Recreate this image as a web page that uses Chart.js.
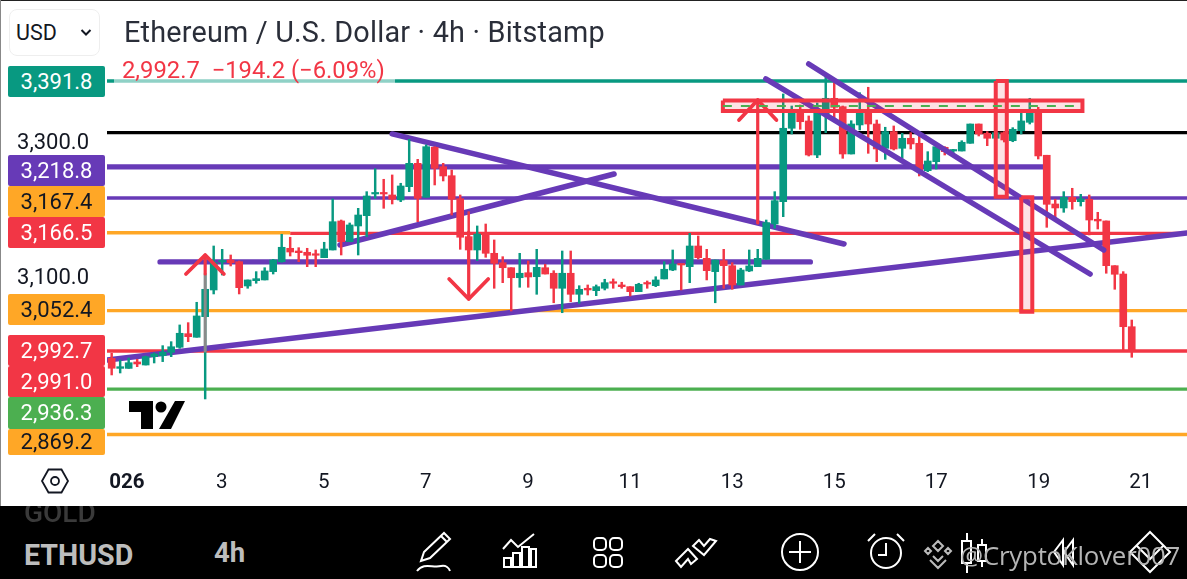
<!DOCTYPE html>
<html><head><meta charset="utf-8">
<script src="https://cdn.jsdelivr.net/npm/chart.js@4"></script>
<style>
html,body{margin:0;padding:0;background:#fff;width:1187px;height:579px;overflow:hidden;font-family:Roboto,sans-serif}
#wrap{position:relative;width:1187px;height:579px;overflow:hidden}
canvas{position:absolute;left:0;top:0}
.abs{position:absolute;white-space:nowrap}
.pill{position:absolute;left:8px;width:97px;text-align:center;font-size:22px;border-radius:2px;display:flex;align-items:center;justify-content:center;padding-bottom:1px;box-sizing:border-box}
#bar{position:absolute;left:0;top:506px;width:1187px;height:73px;background:#000;overflow:hidden;border-top:0}
#edge{position:absolute;left:0;top:0;width:1187px;height:1px;background:#222}
#edgeL{position:absolute;left:0;top:0;width:1px;height:506px;background:#888}
</style></head><body>
<div id="wrap">
<canvas id="c" width="1187" height="506"></canvas>
<div id="edge"></div><div id="edgeL"></div>
<div class="abs" style="left:9px;top:9px;width:89px;height:45px;border:1px solid #eee;border-radius:8px;background:#fff"></div>
<div class="abs" style="left:16px;top:20px;font-size:21.5px;color:#131722">USD</div>
<svg class="abs" style="left:80px;top:28px" width="12" height="9"><path d="M1.5 2 L6 6.5 L10.500 2" fill="none" stroke="#131722" stroke-width="2"/></svg>
<div class="abs" style="left:124px;top:15px;font-size:28.8px;color:#2a2e39;letter-spacing:.2px">Ethereum / U.S. Dollar · 4h · Bitstamp</div>
<div class="abs" style="left:114px;top:58px;width:281px;height:25px;background:rgba(255,255,255,.55)"></div>
<div class="abs" style="left:122px;top:56px;font-size:23.8px;color:#f23645;white-space:pre" id="quote"></div>
<svg class="abs" style="left:129px;top:401px" width="56" height="29" viewBox="0 0 56 29"><path d="M0 0H24V28H12V11H0Z M46 0H56L42 28H30Z" fill="#000"/><circle cx="32" cy="6" r="5.5" fill="#000"/></svg>
<svg class="abs" style="left:40px;top:466px" width="30" height="30" viewBox="0 0 30 30"><path d="M8.500 3.500H21.500L28 15L21.500 26.500H8.500L2 15Z" fill="none" stroke="#131722" stroke-width="1.8"/><circle cx="15" cy="15" r="4" fill="none" stroke="#131722" stroke-width="1.8"/></svg>
<div id="bar">
  <div class="abs" style="left:24px;top:-10px;font-size:28px;font-weight:500;color:#3a3a3a">GOLD</div>
  <div class="abs" style="left:24px;top:32px;font-size:28.6px;font-weight:700;color:#bdbdbd">ETHUSD</div>
  <div class="abs" style="left:214px;top:30px;font-size:27.5px;font-weight:700;color:#bdbdbd">4h</div>
  <svg class="abs" style="left:0;top:0" width="1187" height="73" viewBox="0 506 1187 73" fill="none" stroke="#fff" stroke-width="2">
    <path d="M424 552 L444 533 L450 539 L430 558 L421 561Z M441 536 L447 542"/><path d="M417 571 C424 562 432 568 441 566 C446 565 449 568 450 571"/>
    <path d="M503 549 L511 540 L518 547 L534 534"/><rect x="504" y="558" width="7" height="9"/><rect x="513" y="553" width="7" height="14"/><rect x="522" y="547" width="7" height="20"/><rect x="531" y="549" width="5" height="18" />
    <rect x="594" y="538" width="12" height="12" rx="4"/><rect x="610" y="538" width="12" height="12" rx="4"/><rect x="594" y="555" width="12" height="12" rx="4"/><rect x="610" y="555" width="12" height="12" rx="4"/>
    <path d="M676 561 L688 549 L697 559 L691 564 L688 559 L681 567Z M693 546 L704 555 L716 541 L710 539 L704 546 L699 540Z"/>
    <circle cx="800" cy="552" r="18"/><path d="M800 541V563M789 552H811"/>
    <circle cx="886" cy="553" r="15"/><path d="M886 543V555H878M868 541 L875 534M904 541 L897 534"/>
    <path d="M938 541 L943 546 L938 551 L933 546Z M928 548 L931 551 L928 554 L925 551Z M948 548 L951 551 L948 554 L945 551Z M933 556 L938 561 L943 556 M930 560 L938 568 L946 560" stroke="#bbb"/>
    <path d="M967 533V573M982 539V567"/><rect x="962" y="541" width="9" height="22" fill="#000"/><rect x="978" y="545" width="8" height="16" fill="#000"/>
    <path d="M1063 540 L1054 552 L1063 565Z M1073 540 L1064 552 L1073 565Z"/>
    <path d="M1150 532 L1170 552 L1150 572 L1130 552Z M1136 545 L1150 559 L1164 545"/>
  </svg>
  <div class="abs" style="left:960px;top:31px;font-family:'Open Sans',sans-serif;font-size:25.8px;color:#b5b5b5;letter-spacing:-.2px">@CryptoKlover007</div>
</div>
</div>
<script>
const quoteText = "2,992.7  −194.2 (−6.09%)";
const axisPrices = [3300, 3100];
const tagLabels = ["3,391.8","3,218.8","3,167.4","3,166.5","3,052.4","2,992.7","2,991.0","2,936.3","2,869.2"];
const tagColors = ["#089981","#673ab7","#ffa726","#f23645","#ffa726","#f23645","#f23645","#4caf50","#ffa726"];
const tagText = ["#fff","#fff","#131722","#fff","#131722","#fff","#fff","#fff","#131722"];
const tagTops = [66,155,186,217,294,335,366,397,429];
const tagHeights = [31,31,31,31,31,31,31,32,26];
const dayTicks = [1.78,12.96,24.96,36.96,48.99,60.99,73,85,97,109.05,121.05];
const dayLabels = ["026","3","5","7","9","11","13","15","17","19","21"];

const opens = [2981.9,2967,2967,2976.5,2972,2984.3,2985.8,2990.8,2998.2,3018.3,3013,3043.4,3082.9,3124.3,3127.2,3124.7,3088.8,3096.6,3097.7,3110,3124.7,3144.5,3140.5,3138.6,3135.6,3130.6,3142,3184.9,3154.3,3177.5,3192.7,3224.8,3226.7,3223.3,3215.9,3235.6,3270.1,3219.9,3293.8,3265.1,3251.8,3217.8,3161.7,3142,3165.6,3137.1,3123.2,3115.8,3101,3108.4,3102.5,3115.8,3107.6,3085.4,3107.6,3076.5,3085.4,3081.9,3085.4,3095.1,3090.3,3087.8,3080.4,3093.7,3089.3,3099.2,3112.4,3121.3,3117.3,3147.9,3129.7,3110,3126.2,3118.8,3090.3,3111,3117.3,3128.2,3180.4,3213.4,3321.9,3348.9,3332.7,3282.4,3343,3366.2,3353.8,3283.9,3326.8,3348.9,3328.2,3292.3,3316.9,3292.3,3307.1,3299.7,3259.2,3272.5,3293.8,3288.3,3288.3,3299.7,3328.2,3314.5,3307.1,3315.4,3303.5,3318.3,3330.7,3344,3282,3210,3204.1,3219.9,3213.4,3217,3187.4,3184.9,3118.8,3106.5,3028.6];
const highs = [2989.3,2979.4,2982.4,2980.5,2985.3,2989.8,3000.6,3006.5,3031.2,3034.6,3064.7,3105,3147.9,3143,3134.6,3125.7,3097.7,3110,3115.8,3128.2,3165.2,3160.8,3145.4,3144.5,3142,3153.4,3217.4,3186.3,3181.9,3203.6,3228.2,3262.2,3246.5,3252.9,3240.6,3305.6,3276,3297.2,3294.7,3270.1,3260.2,3223.3,3198.6,3177.5,3180.4,3156.8,3132.1,3115.8,3137.1,3125.7,3143,3120.9,3111.4,3140.5,3140.5,3089.2,3090.3,3090.3,3098.7,3099.2,3094.3,3087.8,3092.8,3096.2,3102.5,3124.7,3142,3121.3,3166.7,3162.7,3143,3127.2,3143,3123.2,3115,3142,3143,3186.3,3228.2,3372.6,3354.8,3356.3,3340.1,3359.3,3398.1,3393.3,3354.8,3333.1,3374.5,3382.5,3334.1,3323.4,3325.3,3314.5,3315.4,3314.5,3287.3,3297.2,3294.7,3290.8,3303.5,3328.2,3328.2,3316.9,3316.9,3316.9,3322.8,3344,3366.2,3352.9,3282,3217,3228.2,3233.2,3224.3,3223.3,3197.7,3184.9,3118.8,3110,3038.5];
const lows = [2957.3,2960.2,2967,2969.5,2972,2975,2977,2984.3,2996.7,3006.5,3013,2921.8,3077,3105,3118.4,3077,3085.4,3092.8,3097.7,3106.5,3123.8,3133.1,3124.7,3117.3,3117.3,3130.6,3142,3134.6,3154.3,3134.6,3161.7,3218.4,3203.6,3210,3213.4,3228.2,3183.8,3219.9,3238.1,3244,3193.7,3143,3124.3,3126.2,3131.2,3085.4,3093.7,3051.8,3086.9,3086.9,3076.5,3106.5,3064,3049.3,3065.6,3063.2,3075.5,3074.5,3082.9,3085.4,3085.4,3074,3080.4,3085.4,3087.8,3099.2,3111.4,3082.9,3093.7,3128.7,3097.7,3064,3085.4,3083.9,3090.3,3110,3117.3,3128.2,3174.1,3191.2,3313.4,3320.4,3280.9,3278.4,3315.4,3336.7,3277.5,3283.9,3319.4,3284.9,3272.5,3276,3289.8,3277.5,3291.3,3251.4,3257.7,3261.7,3282.4,3285.8,3288.3,3299.7,3310.5,3296.2,3296.2,3301.6,3302,3313.4,3328.2,3276.5,3175.5,3187.4,3197.7,3202.2,3207,3164.2,3173,3107.6,3083.9,2994.2,2983.4];
const closes = [2967.2,2969.5,2975.4,2973.5,2984.3,2988.3,2990.8,2999,3018.9,3013.9,3044.5,3083.9,3123.2,3125.7,3123.2,3086.3,3097.7,3099.6,3111,3127.2,3146,3139,3138,3134.2,3134.2,3143.5,3183.8,3154.3,3179,3193.7,3221.8,3226.7,3224.8,3217,3236.6,3270.1,3218.4,3294.7,3262.8,3251.4,3217,3160.8,3142,3165.6,3137.1,3122.3,3115.8,3101,3107.6,3102.1,3116.4,3106.5,3085.4,3107.6,3076.5,3083.9,3082.9,3087.8,3093.7,3092.8,3087.8,3080.4,3091.3,3091.7,3097.7,3113.5,3121.3,3119.8,3147.9,3130.6,3111.4,3127.2,3118.8,3090.3,3112.4,3118.4,3129.7,3182.4,3214.9,3321.9,3348.9,3331.6,3282.4,3344.9,3366.2,3352.9,3283.9,3328.2,3348.9,3328.2,3291.3,3316.9,3291.3,3307.1,3298.7,3259.2,3273.5,3294.7,3287.3,3289.8,3301.2,3328.2,3313.4,3307.1,3315.4,3304.6,3320.4,3332.7,3344,3281,3209.5,3204.1,3219.9,3213.4,3217.4,3186.3,3184.9,3118.8,3106.1,3028.6,2991.7];

// horizontal levels: [price, fromIndex, toIndex]
const xMin = -0.55, xMax = 126.5;
const levelTeal = [3391.8, xMin, xMax];
const levelBlack = [3315.4, xMin, xMax];
const levelPurpleUpper = [3264.7, xMin, 109.6];
const levelPurpleThin = [3218.8, xMin, xMax];
const levelOrangeMid = [3167.4, xMin, 21];
const levelRedMid = [3166.5, 21, xMax];
const levelPurpleLower = [3124.3, 5.68, 82.2];
const levelOrangeLow = [3052.4, xMin, xMax];
const levelRedLast = [2992.7, xMin, xMax];
const levelGreen = [2936.3, xMin, xMax];
const levelOrangeBottom = [2869.2, xMin, xMax];
const levelDashed = [3354.8, 71.9, 114.2];

// trend lines: [[index, price], [index, price]]
const trendLong = [[-0.55,2979.4],[126.5,3167.1]];
const trendFalling = [[33,3313.5],[86.15,3150.9]];
const trendRising = [[26.86,3149.4],[59.1,3254.3]];
const channelLower = [[76.95,3394.8],[115.1,3106.5]];
const channelUpper = [[82,3416.9],[116.7,3142]];

// arrows
const arrowUpA = [[8.74,3106.5],[11,3134.6],[13.2,3106.5]];
const arrowUpAShaft = [[11,3106.5],[11,3134.6]];
const arrowUpAGrey = [[11,3106.5],[11,2992.7]];
const arrowUpB = [[73.8,3334.1],[76,3363.7],[78.2,3334.1]];
const arrowUpBShaft = [[76,3181.9],[76,3363.7]];
const arrowDown = [[39.7,3099.1],[42,3069.6],[44.3,3099.1]];
const arrowDownShaft = [[42,3168.6],[42,3069.6]];

// boxes: [leftIndex, rightIndex, topPrice, bottomPrice]
const boxWide = [71.9,114.2,3363,3347.4];
const boxTallA = [104,105.3,3391.8,3220.8];
const boxTallB = [107,108.3,3219.9,3050.8];

const GREEN="#089981", RED="#f23645", PURPLE="#673ab7", ORANGE="#ffa726", LGREEN="#4caf50";

document.getElementById('quote').textContent = quoteText;
const wrap = document.getElementById('wrap');
tagLabels.forEach((t,i)=>{
  const d=document.createElement('div'); d.className='pill'; d.textContent=t;
  d.style.top=tagTops[i]+'px'; d.style.height=tagHeights[i]+'px';
  d.style.background=tagColors[i]; d.style.color=tagText[i];
  wrap.appendChild(d);
});

const pts = a => a.map(p=>({x:p[0],y:p[1]}));
const level = (l,color,w,extra) => Object.assign({type:'line',data:[{x:l[1],y:l[0]},{x:l[2],y:l[0]}],borderColor:color,borderWidth:w,pointRadius:0,tension:0,order:10,fill:false},extra||{});
const poly = (a,color,w,order) => ({type:'line',data:pts(a),borderColor:color,borderWidth:w,pointRadius:0,tension:0,fill:false,order:order,borderCapStyle:'round',borderJoinStyle:'round'});
const box = b => ({type:'line',data:[{x:b[0],y:b[2]},{x:b[1],y:b[2]},{x:b[1],y:b[3]},{x:b[0],y:b[3]},{x:b[0],y:b[2]}],borderColor:RED,borderWidth:4,pointRadius:0,tension:0,fill:'shape',backgroundColor:'rgba(242,54,69,.14)',order:2});

const isUp = i => closes[i] >= opens[i];
const candleColors = opens.map((_,i)=>isUp(i)?GREEN:RED);

new Chart(document.getElementById('c'),{
  type:'bar',
  data:{datasets:[
    level(levelTeal,GREEN,3.4),
    level(levelBlack,"#000",3.4),
    level(levelPurpleUpper,PURPLE,5.2),
    level(levelPurpleThin,PURPLE,3.6),
    level(levelOrangeMid,ORANGE,3.4),
    level(levelRedMid,RED,3.4),
    level(levelPurpleLower,PURPLE,5.2,{borderCapStyle:'round'}),
    level(levelOrangeLow,ORANGE,3.4),
    level(levelRedLast,RED,3.4),
    level(levelGreen,LGREEN,3.4),
    level(levelOrangeBottom,ORANGE,3.4),
    poly(trendLong,PURPLE,5.5,9),
    poly(trendFalling,PURPLE,5.5,9),
    poly(trendRising,PURPLE,5.5,9),
    poly(channelLower,PURPLE,5.5,3),
    poly(channelUpper,PURPLE,5.5,3),
    {type:'bar',data:opens.map((_,i)=>({x:i,y:[lows[i],highs[i]]})),backgroundColor:candleColors,barThickness:1.8,grouped:false,order:6},
    {type:'bar',data:opens.map((_,i)=>({x:i,y:[Math.min(opens[i],closes[i]),Math.max(opens[i],closes[i])]})),backgroundColor:candleColors,barThickness:7,minBarLength:1.5,grouped:false,order:5},
    box(boxWide),box(boxTallA),box(boxTallB),
    level(levelDashed,LGREEN,2,{borderDash:[9,9],order:1}),
    poly(arrowUpAGrey,"#8a8a8a",3,4),
    poly(arrowUpA,RED,3.8,1),poly(arrowUpAShaft,RED,3.2,1),
    poly(arrowUpB,RED,3.8,1),poly(arrowUpBShaft,RED,3.2,1),
    poly(arrowDown,RED,3.8,1),poly(arrowDownShaft,RED,3.2,1)
  ]},
  options:{
    responsive:false,animation:false,devicePixelRatio:1,
    layout:{padding:{top:60,left:0,right:0,bottom:0}},
    plugins:{legend:{display:false},tooltip:{enabled:false},title:{display:false}},
    scales:{
      x:{type:'linear',min:xMin,max:xMax,offset:false,position:'bottom',
        grid:{display:false,drawTicks:false,offset:false},border:{display:false},
        afterBuildTicks:s=>{s.ticks=dayTicks.map(v=>({value:v}));},
        afterFit:s=>{s.height=41;},
        ticks:{autoSkip:false,maxRotation:0,minRotation:0,padding:6,color:'#131722',
          font:c=>({family:'Roboto',size:20.5,weight:c.index===0?'700':'400'}),
          callback:(v,i)=>dayLabels[i]}},
      y:{type:'linear',min:2824.2,max:3422.8,position:'left',
        grid:{display:false,drawTicks:false},border:{display:false},
        afterBuildTicks:s=>{s.ticks=axisPrices.map(v=>({value:v}));},
        afterFit:s=>{s.width=107;},
        ticks:{autoSkip:false,crossAlign:'near',padding:18,labelOffset:0.5,color:'#131722',
          font:{family:'Roboto',size:22},
          callback:v=>v.toLocaleString('en-US',{minimumFractionDigits:1,maximumFractionDigits:1})}}
    }
  }
});
</script>
</body></html>
